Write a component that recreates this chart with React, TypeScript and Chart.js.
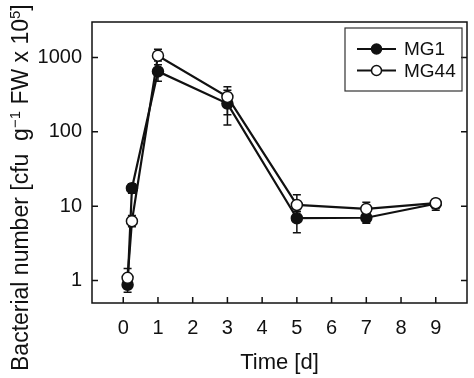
import React, { useEffect, useRef } from "react";
import { Chart, registerables } from "chart.js";

Chart.register(...registerables);

const timeDays = [0.125, 0.25, 1, 3, 5, 7, 9];
const mg1Values = [0.88, 17.5, 650, 240, 6.9, 7.0, 10.8];
const mg1Low = [0.7, 15, 480, 124, 4.4, 5.9, 8.8];
const mg1High = [1.0, 20, 800, 362, 8.5, 8.0, 12];
const mg44Values = [1.09, 6.3, 1057, 295, 10.4, 9.2, 11.0];
const mg44Low = [0.95, 5.3, 900, 170, 8.5, 8.0, 9.5];
const mg44High = [1.46, 7.5, 1290, 405, 14.3, 11.3, 12.3];
const xTickValues = [0, 1, 2, 3, 4, 5, 6, 7, 8, 9];
const yTickValues = [1, 10, 100, 1000];
const seriesNames = ["MG1", "MG44"];
const xTitle = "Time [d]";

const FONT = "'Liberation Sans', Arial, Helvetica, sans-serif";
const INK = "#111";

const errorBars = {
  id: "errorBars",
  beforeDatasetsDraw(chart: any) {
    const ctx = chart.ctx;
    const ys = chart.scales.y;
    const sets = [
      { low: mg1Low, high: mg1High },
      { low: mg44Low, high: mg44High },
    ];
    ctx.save();
    ctx.strokeStyle = INK;
    ctx.lineWidth = 1.5;
    sets.forEach((s, di) => {
      const meta = chart.getDatasetMeta(di);
      meta.data.forEach((pt: any, i: number) => {
        const x = pt.x;
        const y1 = ys.getPixelForValue(s.low[i]);
        const y2 = ys.getPixelForValue(s.high[i]);
        ctx.beginPath();
        ctx.moveTo(x, y1);
        ctx.lineTo(x, y2);
        ctx.moveTo(x - 4, y1);
        ctx.lineTo(x + 4, y1);
        ctx.moveTo(x - 4, y2);
        ctx.lineTo(x + 4, y2);
        ctx.stroke();
      });
    });
    ctx.restore();
  },
};

const frameAndExtras = {
  id: "frameAndExtras",
  afterDraw(chart: any) {
    const ctx = chart.ctx;
    const { left, right, top, bottom } = chart.chartArea;
    const xs = chart.scales.x;
    const ys = chart.scales.y;
    ctx.save();
    ctx.strokeStyle = INK;
    ctx.lineWidth = 1.5;
    ctx.strokeRect(left, top, right - left, bottom - top);
    ctx.beginPath();
    xTickValues.forEach((v) => {
      const x = xs.getPixelForValue(v);
      ctx.moveTo(x, bottom);
      ctx.lineTo(x, bottom - 6);
    });
    yTickValues.forEach((v) => {
      const y = ys.getPixelForValue(v);
      ctx.moveTo(left, y);
      ctx.lineTo(left + 6, y);
      ctx.moveTo(right, y);
      ctx.lineTo(right - 6, y);
    });
    ctx.stroke();

    // legend
    const lx = 345, ly = 28, lw = 117, lh = 63;
    ctx.lineWidth = 1.2;
    ctx.strokeStyle = "#333";
    ctx.strokeRect(lx, ly, lw, lh);
    const rows = [
      { y: 49, fill: INK, name: seriesNames[0] },
      { y: 70.5, fill: "#fff", name: seriesNames[1] },
    ];
    rows.forEach((r) => {
      ctx.strokeStyle = INK;
      ctx.lineWidth = 2;
      ctx.beginPath();
      ctx.moveTo(357, r.y);
      ctx.lineTo(396, r.y);
      ctx.stroke();
      ctx.beginPath();
      ctx.arc(376.5, r.y, 5, 0, Math.PI * 2);
      ctx.fillStyle = r.fill;
      ctx.fill();
      ctx.lineWidth = 1.5;
      ctx.stroke();
      ctx.fillStyle = INK;
      ctx.font = `19px ${FONT}`;
      ctx.textAlign = "left";
      ctx.textBaseline = "middle";
      ctx.fillText(r.name, 404, r.y + 1);
    });

    // y title with superscripts
    ctx.translate(28, 371);
    ctx.rotate(-Math.PI / 2);
    ctx.fillStyle = INK;
    ctx.textAlign = "left";
    ctx.textBaseline = "alphabetic";
    const big = `23px ${FONT}`;
    const small = `15px ${FONT}`;
    const parts: [string, boolean][] = [
      ["Bacterial number [cfu  g", false],
      ["\u22121", true],
      [" FW x 10", false],
      ["5", true],
      ["]", false],
    ];
    let cx = 0;
    parts.forEach(([t, sup]) => {
      ctx.font = sup ? small : big;
      ctx.fillText(t, cx, sup ? -8 : 0);
      cx += ctx.measureText(t).width;
    });
    ctx.restore();
  },
};

export default function App() {
  const ref = useRef<HTMLCanvasElement | null>(null);
  useEffect(() => {
    if (!ref.current) return;
    const chart = new Chart(ref.current, {
      type: "scatter",
      data: {
        datasets: [
          {
            label: seriesNames[0],
            data: timeDays.map((x, i) => ({ x, y: mg1Values[i] })),
            showLine: true,
            borderColor: INK,
            borderWidth: 2.2,
            pointRadius: 5.5,
            pointBorderWidth: 1.5,
            pointBackgroundColor: INK,
            pointBorderColor: INK,
            order: 1,
          },
          {
            label: seriesNames[1],
            data: timeDays.map((x, i) => ({ x, y: mg44Values[i] })),
            showLine: true,
            borderColor: INK,
            borderWidth: 2.2,
            pointRadius: 5.5,
            pointBorderWidth: 1.5,
            pointBackgroundColor: "#fff",
            pointBorderColor: INK,
            order: 0,
          },
        ],
      },
      options: {
        animation: false,
        responsive: false,
        devicePixelRatio: 1,
        layout: { padding: { left: 0, right: 2, top: 19, bottom: 0 } },
        plugins: { legend: { display: false }, tooltip: { enabled: false } },
        scales: {
          x: {
            type: "linear",
            min: -0.9,
            max: 9.9,
            grid: { display: false, drawTicks: false },
            border: { display: false },
            afterBuildTicks: (s: any) => {
              s.ticks = xTickValues.map((v) => ({ value: v }));
            },
            afterFit: (s: any) => {
              s.height = 75;
            },
            ticks: {
              color: INK,
              font: { family: FONT, size: 20 },
              padding: 13,
              maxRotation: 0,
              autoSkip: false,
              callback: (v: any) => String(v),
            },
            title: {
              display: true,
              text: xTitle,
              color: INK,
              font: { family: FONT, size: 22 },
              padding: { top: 0, bottom: 2 },
            },
          },
          y: {
            type: "logarithmic",
            min: 0.5,
            max: 3000,
            grid: { display: false, drawTicks: false },
            border: { display: false },
            afterBuildTicks: (s: any) => {
              s.ticks = yTickValues.map((v) => ({ value: v }));
            },
            afterFit: (s: any) => {
              s.width = 92;
            },
            ticks: {
              color: INK,
              font: { family: FONT, size: 20 },
              padding: 10,
              autoSkip: false,
              callback: (v: any) => String(v),
            },
          },
        },
      },
      plugins: [errorBars, frameAndExtras],
    });
    return () => chart.destroy();
  }, []);
  return (
    <div style={{ position: "fixed", left: 0, top: 0, width: 474, height: 378, background: "#fff" }}>
      <canvas ref={ref} width={474} height={378} />
    </div>
  );
}
